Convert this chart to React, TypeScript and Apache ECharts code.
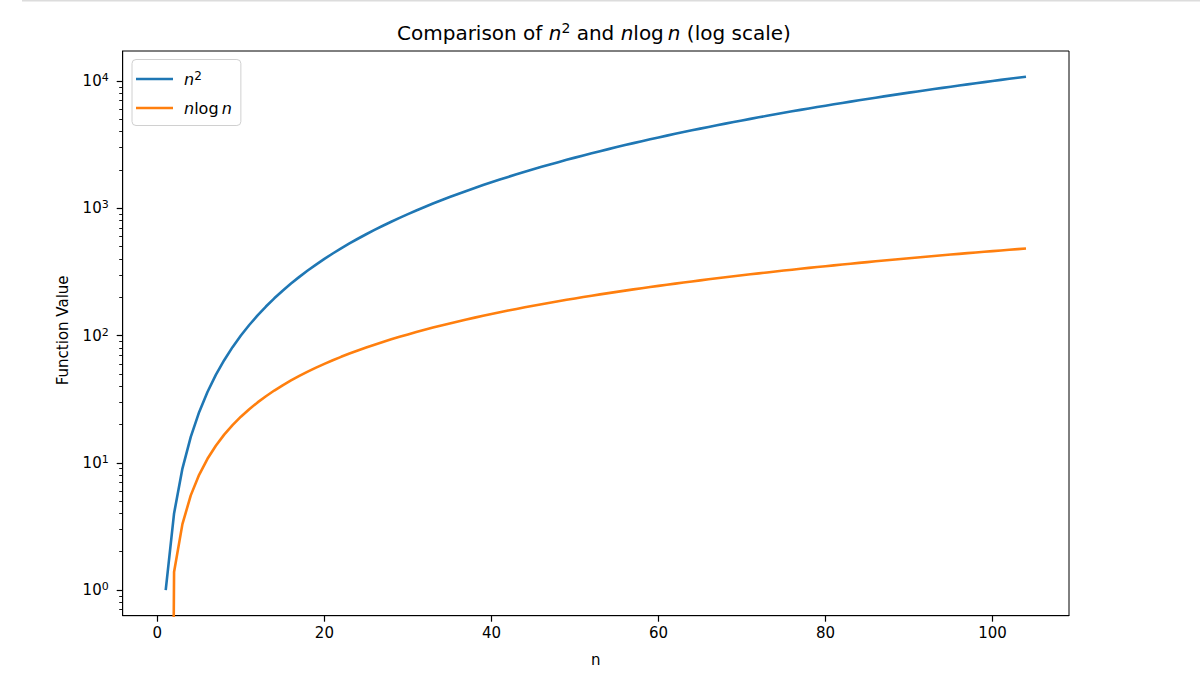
import React, { useEffect, useRef } from 'react';
import * as echarts from 'echarts';

// ---- data ----
const nValues = [
  1, 2, 3, 4, 5, 6, 7, 8, 9, 10, 11, 12, 13, 14, 15, 16, 17, 18, 19, 20,
  21, 22, 23, 24, 25, 26, 27, 28, 29, 30, 31, 32, 33, 34, 35, 36, 37, 38, 39, 40,
  41, 42, 43, 44, 45, 46, 47, 48, 49, 50, 51, 52, 53, 54, 55, 56, 57, 58, 59, 60,
  61, 62, 63, 64, 65, 66, 67, 68, 69, 70, 71, 72, 73, 74, 75, 76, 77, 78, 79, 80,
  81, 82, 83, 84, 85, 86, 87, 88, 89, 90, 91, 92, 93, 94, 95, 96, 97, 98, 99, 100,
  101, 102, 103, 104,
];

const nSquared = [
  1, 4, 9, 16, 25, 36, 49, 64, 81, 100, 121, 144, 169, 196, 225, 256, 289, 324, 361, 400,
  441, 484, 529, 576, 625, 676, 729, 784, 841, 900, 961, 1024, 1089, 1156, 1225, 1296, 1369, 1444, 1521, 1600,
  1681, 1764, 1849, 1936, 2025, 2116, 2209, 2304, 2401, 2500, 2601, 2704, 2809, 2916, 3025, 3136, 3249, 3364, 3481, 3600,
  3721, 3844, 3969, 4096, 4225, 4356, 4489, 4624, 4761, 4900, 5041, 5184, 5329, 5476, 5625, 5776, 5929, 6084, 6241, 6400,
  6561, 6724, 6889, 7056, 7225, 7396, 7569, 7744, 7921, 8100, 8281, 8464, 8649, 8836, 9025, 9216, 9409, 9604, 9801, 10000,
  10201, 10404, 10609, 10816,
];

const nLogN = [
  0, 1.386, 3.296, 5.545, 8.047, 10.751, 13.621, 16.636, 19.775, 23.026,
  26.377, 29.819, 33.344, 36.947, 40.621, 44.361, 48.165, 52.027, 55.944, 59.915,
  63.935, 68.003, 72.116, 76.273, 80.472, 84.711, 88.988, 93.302, 97.652, 102.036,
  106.454, 110.904, 115.385, 119.896, 124.437, 129.007, 133.604, 138.228, 142.879, 147.555,
  152.256, 156.982, 161.732, 166.504, 171.3, 176.117, 180.957, 185.818, 190.699, 195.601,
  200.523, 205.465, 210.425, 215.405, 220.403, 225.42, 230.454, 235.506, 240.575, 245.661,
  250.763, 255.882, 261.017, 266.169, 271.335, 276.517, 281.714, 286.927, 292.153, 297.395,
  302.65, 307.92, 313.204, 318.501, 323.812, 329.136, 334.473, 339.823, 345.186, 350.562,
  355.95, 361.351, 366.764, 372.189, 377.625, 383.074, 388.534, 394.006, 399.489, 404.983,
  410.488, 416.005, 421.532, 427.07, 432.618, 438.177, 443.747, 449.327, 454.917, 460.517,
  466.127, 471.747, 477.377, 483.017,
];

const seriesNames = ['n2', 'nlogn'];
const xTicks = [0, 20, 40, 60, 80, 100];
const yTicks = [1, 10, 100, 1000, 10000];
const yMinorTicks = [
  0.7, 0.8, 0.9,
  2, 3, 4, 5, 6, 7, 8, 9,
  20, 30, 40, 50, 60, 70, 80, 90,
  200, 300, 400, 500, 600, 700, 800, 900,
  2000, 3000, 4000, 5000, 6000, 7000, 8000, 9000,
];

const X_MIN = -4.15;
const X_MAX = 109.15;
const Y_MIN = 0.6285;
const Y_MAX = 17210;

const FONT = 'DejaVu Sans';
const BLUE = '#1f77b4';
const ORANGE = '#ff7f0e';

export default function App() {
  const ref = useRef<HTMLDivElement>(null);

  useEffect(() => {
    if (!ref.current) return;
    const chart = echarts.init(ref.current, null, { renderer: 'svg' });

    const mathRich = (size: number) => ({
      i: { fontFamily: FONT, fontStyle: 'italic', fontSize: size, color: '#000' },
      r: { fontFamily: FONT, fontSize: size, color: '#000' },
      s: {
        fontFamily: FONT,
        fontSize: Math.round(size * 0.72),
        color: '#000',
        verticalAlign: 'top',
        lineHeight: Math.round(size * 0.62),
      },
    });

    const legendLabel: Record<string, string> = {
      n2: '{i|n}{s|2}',
      nlogn: '{i|n}{r|log\u2009}{i|n}',
    };

    // matplotlib clips non-positive values on a log axis to a tiny positive number
    const clipLog = (v: number) => (v > 0 ? v : 1e-9);

    chart.setOption({
      animation: false,
      backgroundColor: '#ffffff',
      graphic: [
        { type: 'rect', shape: { x: 22, y: 0, width: 1178, height: 1.5 }, style: { fill: '#dcdcdc' }, silent: true },
      ],
      title: {
        text: 'Comparison of {i|n}{s|2} and {i|n}{r|log\u2009}{i|n} (log scale)',
        left: 397,
        top: 21,
        padding: 0,
        textStyle: {
          fontFamily: FONT,
          fontSize: 20,
          lineHeight: 23,
          fontWeight: 'normal',
          color: '#000',
          rich: mathRich(20),
        },
      },
      legend: {
        orient: 'vertical',
        left: 132,
        top: 59.5,
        padding: [10, 9, 8, 4],
        itemGap: 10,
        itemWidth: 37,
        itemHeight: 2.6,
        icon: 'rect',
        backgroundColor: '#ffffff',
        borderColor: '#d0d0d0',
        borderWidth: 1,
        borderRadius: 4,
        formatter: (name: string) => legendLabel[name] ?? name,
        textStyle: {
          fontFamily: FONT,
          fontSize: 16,
          lineHeight: 19,
          color: '#000',
          padding: [0, 0, 0, 6],
          rich: mathRich(16),
        },
        data: seriesNames,
      },
      grid: {
        left: 122.7,
        right: 131,
        top: 51,
        bottom: 63.3,
        show: true,
        borderColor: '#000',
        borderWidth: 1,
        backgroundColor: 'transparent',
      },
      xAxis: {
        type: 'value',
        min: X_MIN,
        max: X_MAX,
        name: 'n',
        nameLocation: 'middle',
        nameGap: 37,
        nameTextStyle: { fontFamily: FONT, fontSize: 15, color: '#000' },
        axisLine: { show: true, onZero: false, lineStyle: { color: '#000', width: 1 } },
        axisTick: { show: true, length: 6, lineStyle: { color: '#000', width: 1.2 }, customValues: xTicks },
        axisLabel: {
          fontFamily: FONT,
          fontSize: 15,
          color: '#000',
          margin: 10,
          customValues: xTicks,
        },
        splitLine: { show: false },
      },
      yAxis: [
        {
          type: 'log',
          logBase: 10,
          min: Y_MIN,
          max: Y_MAX,
          name: 'Function Value',
          nameLocation: 'middle',
          nameGap: 52,
          nameTextStyle: { fontFamily: FONT, fontSize: 15, color: '#000', padding: [0, 0, 0, 6] },
          axisLine: { show: true, onZero: false, lineStyle: { color: '#000', width: 1 } },
          axisTick: { show: true, length: 6, lineStyle: { color: '#000', width: 1.2 }, customValues: yTicks },
          axisLabel: {
            fontFamily: FONT,
            fontSize: 15,
            lineHeight: 18,
            color: '#000',
            margin: 14,
            customValues: yTicks,
            formatter: (v: number) => `{b|10}{s|${Math.round(Math.log10(v))}}`,
            rich: {
              b: { fontFamily: FONT, fontSize: 15, lineHeight: 18, color: '#000' },
              s: { fontFamily: FONT, fontSize: 11, color: '#000', verticalAlign: 'top', lineHeight: 10 },
            },
          },
          splitLine: { show: false },
        },
        {
          type: 'log',
          logBase: 10,
          min: Y_MIN,
          max: Y_MAX,
          position: 'left',
          axisLine: { show: false, onZero: false },
          axisTick: { show: true, length: 3.5, lineStyle: { color: '#000', width: 0.9 }, customValues: yMinorTicks },
          axisLabel: { show: false },
          splitLine: { show: false },
        },
      ],
      series: [
        {
          name: seriesNames[0],
          type: 'line',
          yAxisIndex: 0,
          showSymbol: false,
          clip: true,
          lineStyle: { color: BLUE, width: 2.6 },
          itemStyle: { color: BLUE },
          data: nValues.map((n, i) => [n, clipLog(nSquared[i])]),
        },
        {
          name: seriesNames[1],
          type: 'line',
          yAxisIndex: 0,
          showSymbol: false,
          clip: true,
          lineStyle: { color: ORANGE, width: 2.6 },
          itemStyle: { color: ORANGE },
          data: nValues.map((n, i) => [n, clipLog(nLogN[i])]),
        },
      ],
    });

    return () => chart.dispose();
  }, []);

  return (
    <div
      ref={ref}
      style={{ position: 'fixed', left: 0, top: 0, width: 1200, height: 679, background: '#ffffff' }}
    />
  );
}
